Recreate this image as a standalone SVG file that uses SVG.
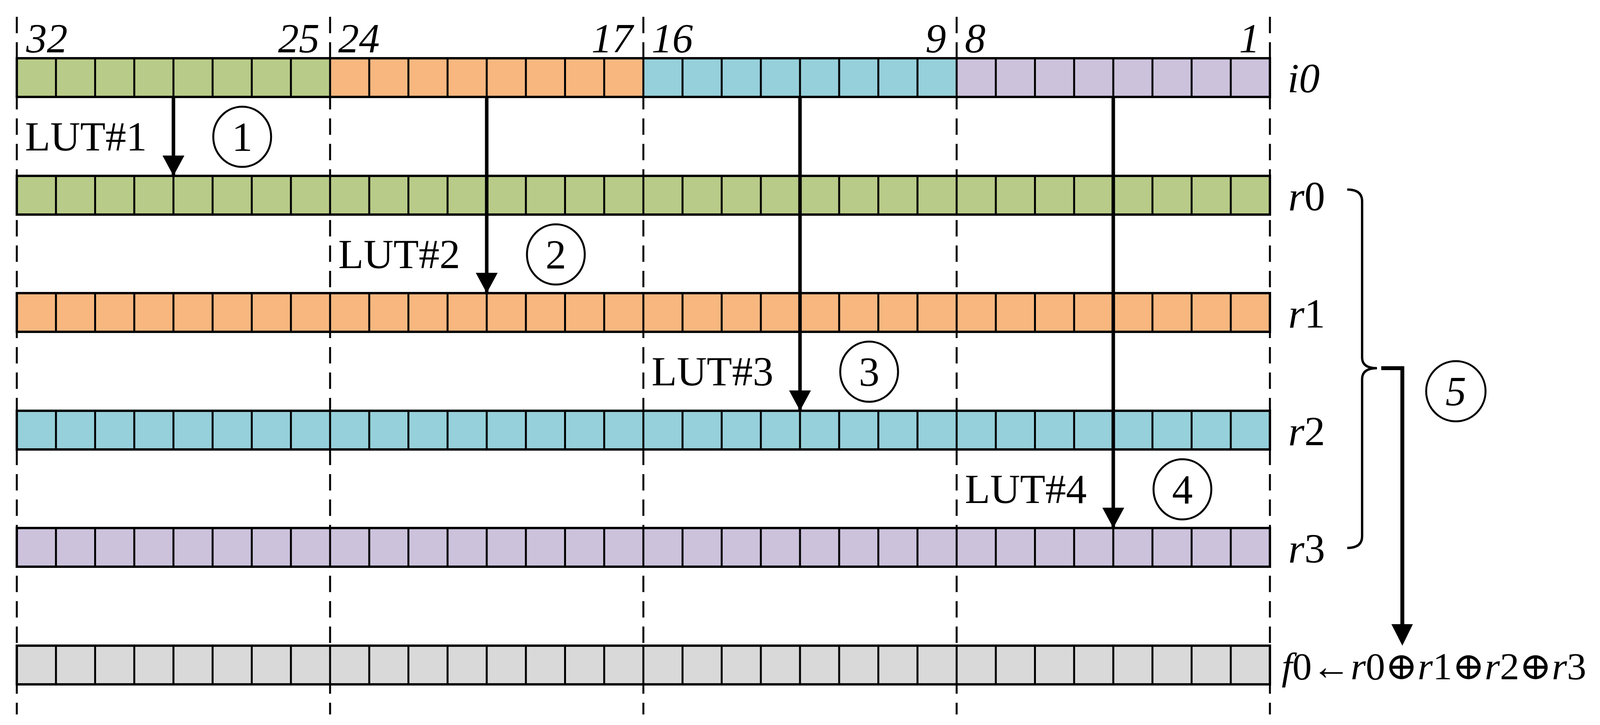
<svg xmlns="http://www.w3.org/2000/svg" width="4098" height="1855" viewBox="0 0 4098 1855">
<style>
text,tspan{font-family:'Liberation Serif','DejaVu Serif',serif;font-size:106px;fill:#000}
.it{font-style:italic}
.bar{stroke:#000;stroke-width:6}
.div{stroke:#000;stroke-width:5;fill:none}
.dash{stroke:#000;stroke-width:5;stroke-dasharray:42 23;fill:none}
.arr{stroke:#000;stroke-width:9;fill:none;marker-end:url(#ah)}
.circ{fill:none;stroke:#000;stroke-width:5}
</style>
<defs>
<marker id="ah" markerUnits="userSpaceOnUse" markerWidth="56" markerHeight="56" refX="52" refY="28" orient="auto"><path d="M0,0 L52,28 L0,56 Z" fill="#000"/></marker>
<path id="dv" class="div" d="M143.25,0v99M243.5,0v99M343.75,0v99M444,0v99M544.25,0v99M644.5,0v99M744.75,0v99M845,0v99M945.25,0v99M1045.5,0v99M1145.75,0v99M1246,0v99M1346.25,0v99M1446.5,0v99M1546.75,0v99M1647,0v99M1747.25,0v99M1847.5,0v99M1947.75,0v99M2048,0v99M2148.25,0v99M2248.5,0v99M2348.75,0v99M2449,0v99M2549.25,0v99M2649.5,0v99M2749.75,0v99M2850,0v99M2950.25,0v99M3050.5,0v99M3150.75,0v99"/>
</defs>
<rect width="4098" height="1855" fill="#fff"/>
<g id="guides">
<path class="dash" d="M43,43V1828M845,43V1828M1647,43V1828M2449,43V1828M3251,43V1828"/>
</g>
<g id="i0">
<rect x="43" y="149" width="802" height="99" fill="#B8CB88"/>
<rect x="845" y="149" width="802" height="99" fill="#F7B77F"/>
<rect x="1647" y="149" width="802" height="99" fill="#96D0DB"/>
<rect x="2449" y="149" width="802" height="99" fill="#CCC2DC"/>
<rect class="bar" x="43" y="149" width="3208" height="99" fill="none"/>
<use href="#dv" y="149"/>
<text class="it" x="67" y="134">32</text><text class="it" x="818" y="134" text-anchor="end">25</text>
<text class="it" x="866" y="134">24</text><text class="it" x="1620" y="134" text-anchor="end">17</text>
<text class="it" x="1668" y="134">16</text><text class="it" x="2422" y="134" text-anchor="end">9</text>
<text class="it" x="2470" y="134">8</text><text class="it" x="3225" y="134" text-anchor="end">1</text>
<text class="it" x="3296" y="236">i0</text>
</g>
<g id="r0"><rect class="bar" x="43" y="450" width="3208" height="99" fill="#B8CB88"/><use href="#dv" y="450"/><text x="3298" y="538"><tspan class="it">r</tspan>0</text></g>
<g id="r1"><rect class="bar" x="43" y="750" width="3208" height="99" fill="#F7B77F"/><use href="#dv" y="750"/><text x="3298" y="838"><tspan class="it">r</tspan>1</text></g>
<g id="r2"><rect class="bar" x="43" y="1051" width="3208" height="99" fill="#96D0DB"/><use href="#dv" y="1051"/><text x="3298" y="1139"><tspan class="it">r</tspan>2</text></g>
<g id="r3"><rect class="bar" x="43" y="1351" width="3208" height="99" fill="#CCC2DC"/><use href="#dv" y="1351"/><text x="3298" y="1439"><tspan class="it">r</tspan>3</text></g>
<g id="f0"><rect class="bar" x="43" y="1652" width="3208" height="99" fill="#D9D9D9"/><use href="#dv" y="1652"/>
<text x="3281" y="1738" style="font-size:98px" textLength="780" lengthAdjust="spacingAndGlyphs"><tspan class="it" style="font-size:98px">f</tspan>0←<tspan class="it" style="font-size:98px">r</tspan>0⊕<tspan class="it" style="font-size:98px">r</tspan>1⊕<tspan class="it" style="font-size:98px">r</tspan>2⊕<tspan class="it" style="font-size:98px">r</tspan>3</text></g>
<g id="steps">
<text x="64" y="385">LUT#1</text><ellipse class="circ" cx="620" cy="350" rx="74" ry="77"/><text x="620" y="386" text-anchor="middle">1</text>
<text x="866" y="686">LUT#2</text><ellipse class="circ" cx="1423" cy="651" rx="74" ry="77"/><text x="1423" y="687" text-anchor="middle">2</text>
<text x="1668" y="986">LUT#3</text><ellipse class="circ" cx="2225" cy="951" rx="74" ry="77"/><text x="2225" y="987" text-anchor="middle">3</text>
<text x="2470" y="1287">LUT#4</text><ellipse class="circ" cx="3027" cy="1252" rx="74" ry="77"/><text x="3027" y="1288" text-anchor="middle">4</text>
<ellipse class="circ" cx="3727" cy="1001" rx="76" ry="77"/><text class="it" x="3727" y="1037" text-anchor="middle">5</text>
</g>
<g id="connectors">
<line class="arr" x1="444" y1="248" x2="444" y2="450"/>
<line class="arr" x1="1246" y1="248" x2="1246" y2="750"/>
<line class="arr" x1="2048" y1="248" x2="2048" y2="1051"/>
<line class="arr" x1="2850" y1="248" x2="2850" y2="1351"/>
<path d="M3449,485 Q3487,485 3487,515 V915 Q3487,942 3525,942 Q3487,942 3487,970 V1372 Q3487,1402 3449,1402" fill="none" stroke="#000" stroke-width="6"/>
<path d="M3536,942 H3590 V1600" fill="none" stroke="#000" stroke-width="10"/>
<path d="M3562,1597 L3617,1597 L3590,1652 Z" fill="#000"/>
</g>
</svg>
